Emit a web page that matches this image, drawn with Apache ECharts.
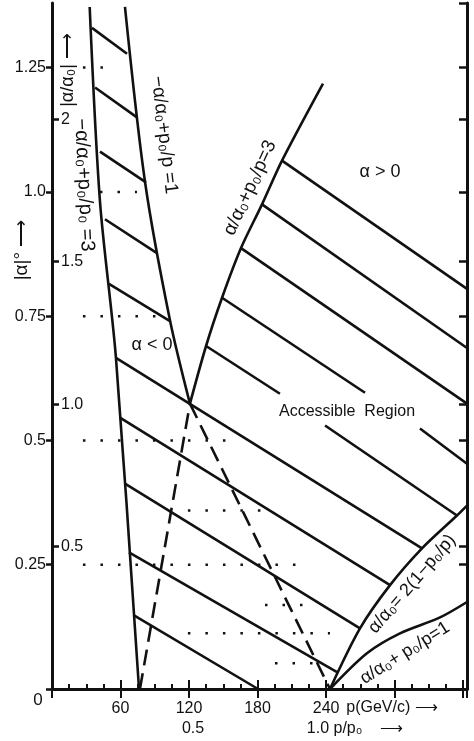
<!DOCTYPE html>
<html>
<head>
<meta charset="utf-8">
<script src="https://cdn.jsdelivr.net/npm/echarts@6/dist/echarts.min.js"></script>
<style>html,body{margin:0;background:#fff}#chart{width:474px;height:741px}</style>
</head>
<body>
<div id="chart"></div>
<script>
// x: p (GeV/c), y: |alpha| in degrees
const xTicks = [60, 120, 180, 240]
const alphaRatioScale = 0.573 // |alpha| (deg) per unit of |alpha/alpha0|

// boundary curves
const bandLeft = [[33, 1.372], [42.0, 0.981], [56.0, 0.666], [76.2, 0]]
const bandRight = [[63.9, 1.372], [81.4, 1.021], [103.3, 0.742], [120.8, 0.574]]
const plusThree = [[120.8, 0.574], [134.9, 0.690], [148.9, 0.787], [165.5, 0.887], [183.9, 0.975], [201.4, 1.063], [237.3, 1.218]]
const twoOneMinus = [[243.4, 0], [269.7, 0.122], [296, 0.209], [324, 0.283], [354.6, 0.349], [363.4, 0.369]]
const plusOne = [[243.4, 0], [275.8, 0.072], [304.7, 0.112], [339.8, 0.144], [363.4, 0.175]]
const dashLeft = [[77, 0], [120.8, 0.574]]
const dashRight = [[120.8, 0.574], [243.4, 0]]

// hatch segments
const hatches = [
  [[35.0, 1.330], [65.7, 1.278]],
  [[37.7, 1.210], [74.4, 1.150]],
  [[42.0, 1.081], [82.3, 1.019]],
  [[46.4, 0.945], [91.9, 0.877]],
  [[49.9, 0.815], [103.3, 0.740]],
  [[201.4, 1.063], [363.4, 0.805]],
  [[183.9, 0.975], [363.4, 0.686]],
  [[165.5, 0.887], [363.4, 0.574]],
  [[148.9, 0.787], [274.1, 0.596]],
  [[322.2, 0.524], [363.4, 0.453]],
  [[134.9, 0.690], [199.6, 0.594]],
  [[239.1, 0.530], [354.6, 0.349]],
  [[56.0, 0.666], [324, 0.283]],
  [[59.5, 0.546], [296, 0.209]],
  [[63.9, 0.413], [269.7, 0.122]],
  [[67.4, 0.275], [249.6, 0.034]],
  [[71.8, 0.148], [180.4, 0]]
]

// dotted guide rows [y, xStart, xEnd]
const dotRows = [
  [1.25, 27.1, 56.9],
  [1.0, 42, 74.4],
  [0.75, 27.1, 103.3],
  [0.5, 27.1, 155.9],
  [0.359, 119, 183.9],
  [0.25, 27.1, 213.7],
  [0.169, 186.5, 230.3],
  [0.112, 119, 243.4],
  [0.052, 195.3, 234.7]
]

const chart = echarts.init(document.getElementById('chart'))
const solid = { color: '#111', width: 2.6 }
const seg = (data, style) => ({ type: 'line', data: data, symbol: 'none', silent: true, smooth: data.length > 2 ? 0.3 : 0, lineStyle: style, xAxisIndex: 0, yAxisIndex: 0 })

const series = []
;[bandLeft, bandRight, plusThree, twoOneMinus, plusOne].forEach(d => series.push(seg(d, solid)))
;[dashLeft, dashRight].forEach(d => series.push(seg(d, { color: '#111', width: 2.6, type: [16, 8] })))
hatches.forEach(d => series.push(seg(d, solid)))
dotRows.forEach(r => series.push(seg([[r[1], r[0]], [r[2], r[0]]], { color: '#111', width: 2.5, type: [2.5, 15] })))

const font = 'Liberation Sans, Arial, sans-serif'
const txt = (x, y, text, rot, size) => ({
  type: 'text', x: x, y: y, rotation: rot || 0,
  style: { text: text, fill: '#111', font: (size || 16) + 'px ' + font, align: 'center', verticalAlign: 'middle' }
})

const option = {
  animation: false,
  grid: { left: 52, right: 7, top: 3, bottom: 52 },
  xAxis: [
    {
      type: 'value', min: 0, max: 363.4, interval: 60, position: 'bottom',
      axisLine: { lineStyle: { color: '#111', width: 3 } },
      axisTick: { inside: true, length: 9, lineStyle: { color: '#111', width: 2 } },
      minorTick: { show: true, splitNumber: 4, length: 5, lineStyle: { color: '#111', width: 2 } },
      axisLabel: { fontSize: 16, fontFamily: font, color: '#111', margin: 12, showMaxLabel: false,
        formatter: v => xTicks.includes(v) ? String(v) : '' },
      splitLine: { show: false }
    },
    {
      type: 'value', min: 0, max: 363.4, interval: 60, position: 'top',
      axisLine: { lineStyle: { color: '#111', width: 3 } },
      axisTick: { inside: true, length: 9, lineStyle: { color: '#111', width: 2 } },
      axisLabel: { show: false }, splitLine: { show: false }
    }
  ],
  yAxis: [
    {
      type: 'value', min: 0, max: 1.38, interval: 0.25, position: 'left',
      axisLine: { lineStyle: { color: '#111', width: 3 } },
      axisTick: { length: 6, lineStyle: { color: '#111', width: 2.5 } },
      axisLabel: { fontSize: 16, fontFamily: font, color: '#111', margin: 6, showMaxLabel: false,
        formatter: v => v === 0 ? '' : (v === 1 ? '1.0' : String(v)) },
      splitLine: { show: false }
    },
    {
      type: 'value', min: 0, max: 1.38 / alphaRatioScale, interval: 0.5, position: 'left',
      axisLine: { show: false },
      axisTick: { inside: true, length: 7, lineStyle: { color: '#111', width: 2.5 } },
      axisLabel: { inside: true, fontSize: 16, fontFamily: font, color: '#111', margin: 9, showMaxLabel: false,
        formatter: v => v === 0 ? '' : (v === 2 ? '2' : v.toFixed(1)) },
      splitLine: { show: false }
    },
    {
      type: 'value', min: 0, max: 1.38, interval: 0.25, position: 'right',
      axisLine: { lineStyle: { color: '#111', width: 3 } },
      axisTick: { inside: true, length: 8, lineStyle: { color: '#111', width: 2.5 } },
      axisLabel: { show: false }, splitLine: { show: false }
    },
    {
      type: 'value', min: 0, max: 1.38 / alphaRatioScale, interval: 0.5, position: 'right',
      axisLine: { show: false },
      axisTick: { inside: true, length: 8, lineStyle: { color: '#111', width: 2.5 } },
      axisLabel: { show: false }, splitLine: { show: false }
    }
  ],
  graphic: [
    txt(38, 700, '0', 0, 17),
    txt(392, 708, 'p(GeV/c) ⟶', 0, 16),
    txt(193, 729, '0.5', 0, 16),
    txt(355, 729, '1.0 p/p₀    ⟶', 0, 16),
    txt(22, 250, '|α|° ⟶', Math.PI / 2, 19),
    txt(68, 70, '|α/α₀| ⟶', Math.PI / 2, 18),
    txt(84, 185, '−α/α₀+p₀/p₀ =3', -Math.PI / 2 + 0.05, 20),
    txt(164, 135, '−α/α₀+p₀/p =1', -Math.PI / 2 + 0.12, 19),
    txt(250, 188, 'α/α₀+p₀/p=3', 1.14, 19),
    txt(380, 172, 'α > 0', 0, 18),
    txt(152, 345, 'α < 0', 0, 18),
    txt(347, 412, 'Accessible  Region', 0, 16),
    txt(412, 584, 'α/α₀= 2(1−p₀/p)', 0.86, 18),
    txt(405, 653, 'α/α₀+ p₀/p=1', 0.56, 18)
  ],
  series: series
}
chart.setOption(option)
</script>
</body>
</html>
